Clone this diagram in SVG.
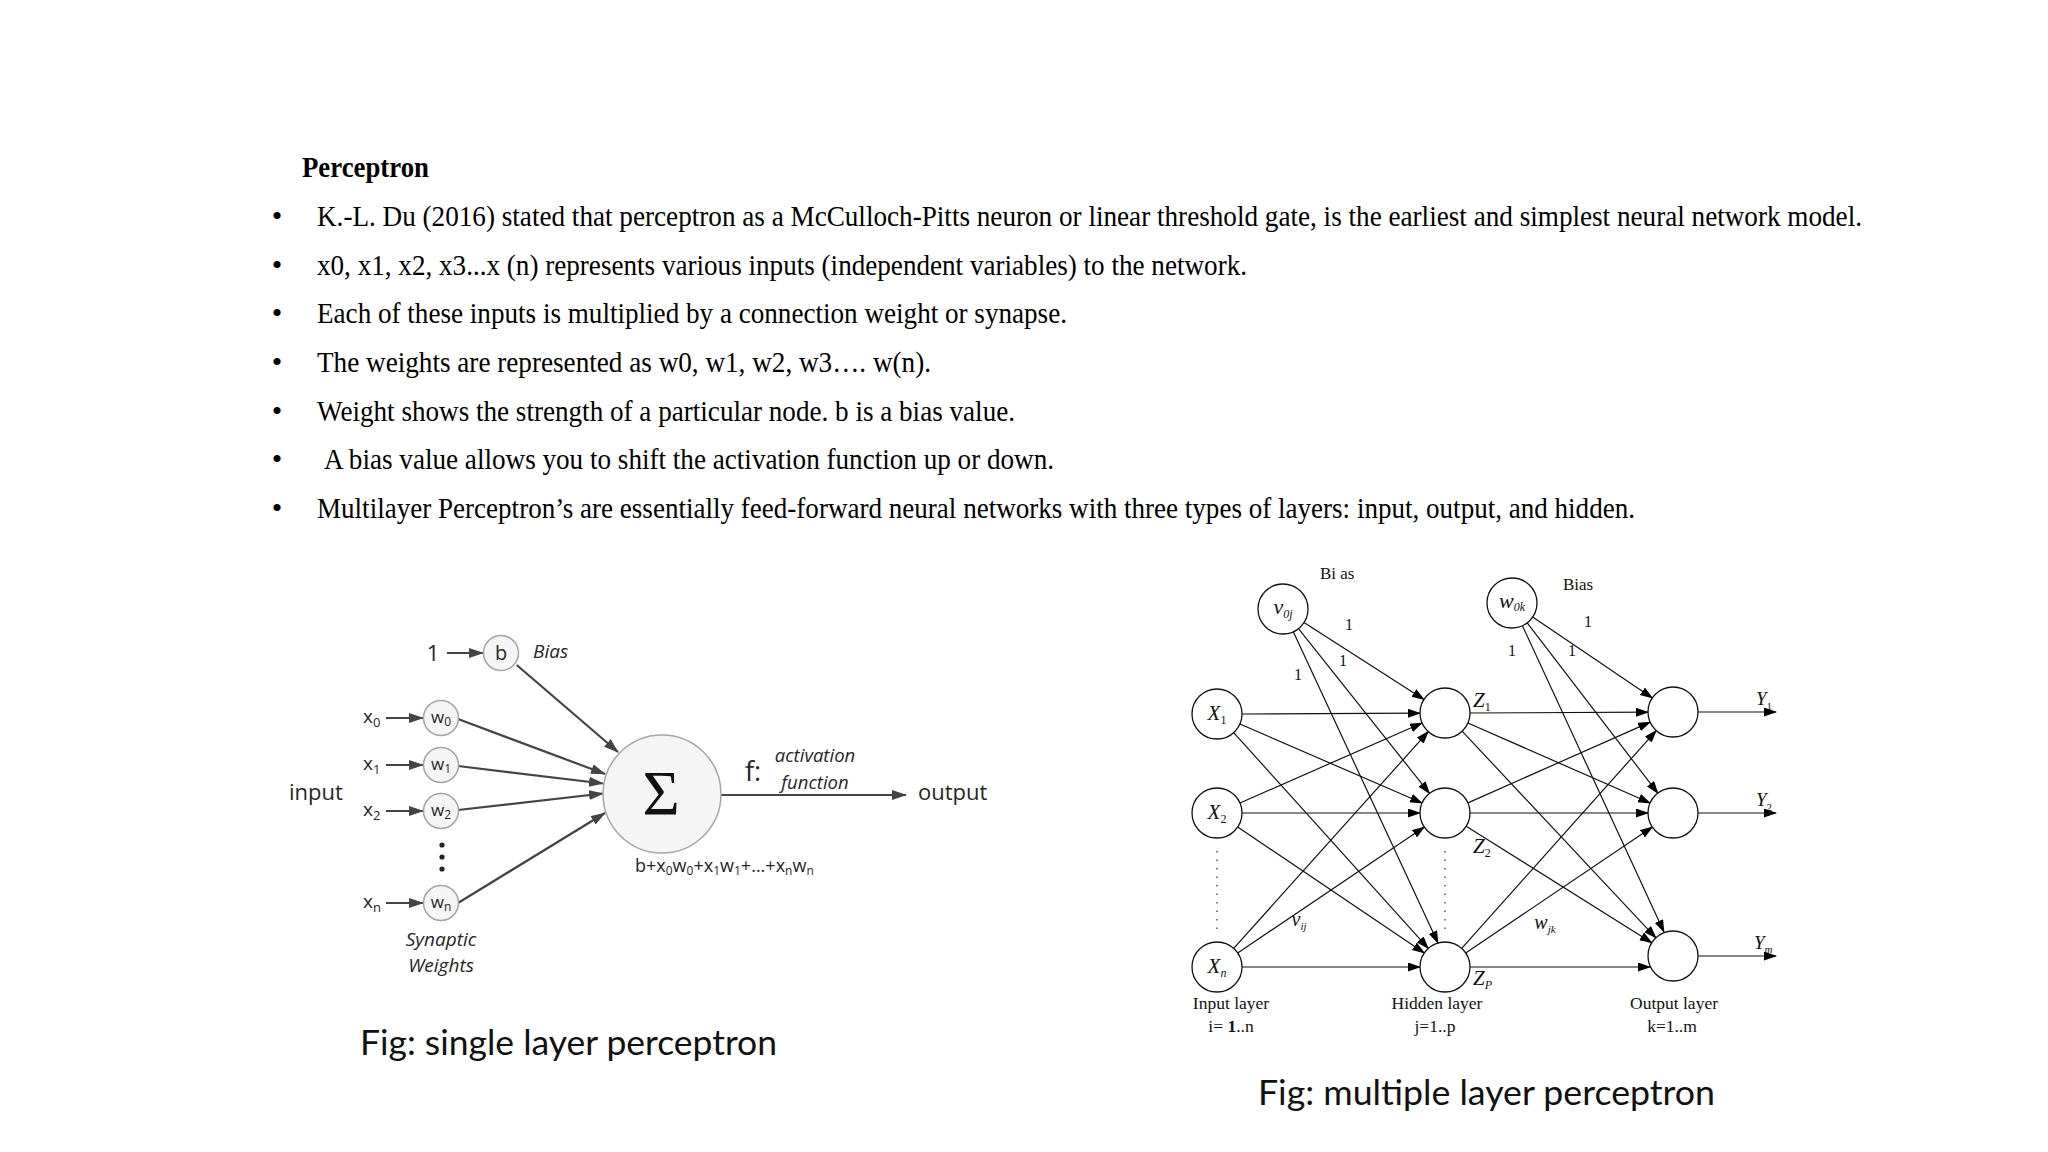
<svg xmlns="http://www.w3.org/2000/svg" width="2048" height="1152" viewBox="0 0 2048 1152">
<style>
.body{font-family:"Liberation Serif","Times New Roman",serif;font-size:29px;fill:#000}
.bul{font-family:"Liberation Serif",serif;font-size:30px;fill:#000;text-anchor:middle}
.lbl{font-family:"Open Sans","Noto Sans",sans-serif;fill:#262626}
.cap{font-family:Lato,"Open Sans",sans-serif;font-size:35.5px;fill:#111}
.pc{fill:#f5f5f5;stroke:#a6a6a6;stroke-width:1.5}
.la{stroke:#444;stroke-width:2.2;fill:none;marker-end:url(#ah1)}
.nc{fill:#fff;stroke:#111;stroke-width:1.3}
.ra{stroke:#111;stroke-width:1.2;fill:none;marker-end:url(#ah2)}
.tm{font-family:"Liberation Serif","Times New Roman",serif;fill:#111}
.it{font-style:italic}
.dot{stroke:#555;stroke-width:1.5;stroke-dasharray:1.5 7;fill:none}
</style>
<defs>
<marker id="ah1" markerWidth="16" markerHeight="11" refX="14" refY="5" orient="auto" markerUnits="userSpaceOnUse"><path d="M0,0 L15,5 L0,10 z" fill="#444"/></marker>
<marker id="ah2" markerWidth="14" markerHeight="10" refX="12" refY="4.5" orient="auto" markerUnits="userSpaceOnUse"><path d="M0,0 L13,4.5 L0,9 z" fill="#000"/></marker>
</defs>
<rect x="0" y="0" width="2048" height="1152" fill="#fff"/>

<g id="text-block">
<text class="body" x="302" y="177" font-weight="bold" textLength="127" lengthAdjust="spacingAndGlyphs">Perceptron</text>
<text class="bul" x="277" y="226">•</text>
<text class="body" x="317" y="226" textLength="1545" lengthAdjust="spacingAndGlyphs">K.-L. Du (2016) stated that perceptron as a McCulloch-Pitts neuron or linear threshold gate, is the earliest and simplest neural network model.</text>
<text class="bul" x="277" y="274.5">•</text>
<text class="body" x="317" y="274.5" textLength="930" lengthAdjust="spacingAndGlyphs">x0, x1, x2, x3...x (n) represents various inputs (independent variables) to the network.</text>
<text class="bul" x="277" y="323">•</text>
<text class="body" x="317" y="323" textLength="750" lengthAdjust="spacingAndGlyphs">Each of these inputs is multiplied by a connection weight or synapse.</text>
<text class="bul" x="277" y="371.5">•</text>
<text class="body" x="317" y="371.5" textLength="614" lengthAdjust="spacingAndGlyphs">The weights are represented as w0, w1, w2, w3…. w(n).</text>
<text class="bul" x="277" y="420.5">•</text>
<text class="body" x="317" y="420.5" textLength="698" lengthAdjust="spacingAndGlyphs">Weight shows the strength of a particular node. b is a bias value.</text>
<text class="bul" x="277" y="469">•</text>
<text class="body" x="324" y="469" textLength="730" lengthAdjust="spacingAndGlyphs">A bias value allows you to shift the activation function up or down.</text>
<text class="bul" x="277" y="518">•</text>
<text class="body" x="317" y="518" textLength="1318" lengthAdjust="spacingAndGlyphs">Multilayer Perceptron’s are essentially feed-forward neural networks with three types of layers: input, output, and hidden.</text>
</g>

<!-- Single layer perceptron -->
<g id="slp-connectors">
<line class="la" x1="447" y1="653" x2="483" y2="653"/>
<line class="la" x1="386" y1="718" x2="423" y2="718"/>
<line class="la" x1="386" y1="765" x2="423" y2="765"/>
<line class="la" x1="386" y1="811" x2="423" y2="811"/>
<line class="la" x1="386" y1="903" x2="423" y2="903"/>
<line class="la" x1="516.7" y1="665" x2="618" y2="752"/>
<line class="la" x1="458" y1="719" x2="605" y2="774"/>
<line class="la" x1="458" y1="766" x2="603" y2="783.5"/>
<line class="la" x1="458" y1="810" x2="603" y2="793.5"/>
<line class="la" x1="458" y1="903" x2="605" y2="813"/>
<line class="la" x1="721" y1="795" x2="906" y2="795"/>
</g>
<g id="slp-input-label"><text class="lbl" x="289" y="800" font-size="22">input</text></g>
<g id="slp-one"><text class="lbl" x="433" y="661" font-size="22" text-anchor="middle">1</text></g>
<g id="slp-bias">
<circle class="pc" cx="501" cy="653" r="17.5"/>
<text class="lbl" x="501" y="660" font-size="20" text-anchor="middle">b</text>
<text class="lbl it" x="533" y="658" font-size="19">Bias</text>
</g>
<g id="slp-x0"><text class="lbl" x="363" y="723" font-size="19">x<tspan font-size="13" dy="4">0</tspan></text></g>
<g id="slp-x1"><text class="lbl" x="363" y="770" font-size="19">x<tspan font-size="13" dy="4">1</tspan></text></g>
<g id="slp-x2"><text class="lbl" x="363" y="816" font-size="19">x<tspan font-size="13" dy="4">2</tspan></text></g>
<g id="slp-xn"><text class="lbl" x="363" y="908" font-size="19">x<tspan font-size="13" dy="4">n</tspan></text></g>
<g id="slp-w0"><circle class="pc" cx="441" cy="718" r="17.5"/><text class="lbl" x="441" y="723" font-size="17" text-anchor="middle">w<tspan font-size="12" dy="3">0</tspan></text></g>
<g id="slp-w1"><circle class="pc" cx="441" cy="765" r="17.5"/><text class="lbl" x="441" y="770" font-size="17" text-anchor="middle">w<tspan font-size="12" dy="3">1</tspan></text></g>
<g id="slp-w2"><circle class="pc" cx="441" cy="811" r="17.5"/><text class="lbl" x="441" y="816" font-size="17" text-anchor="middle">w<tspan font-size="12" dy="3">2</tspan></text></g>
<g id="slp-wn"><circle class="pc" cx="441" cy="903" r="17.5"/><text class="lbl" x="441" y="908" font-size="17" text-anchor="middle">w<tspan font-size="12" dy="3">n</tspan></text></g>
<g id="slp-dots" fill="#222">
<circle cx="442" cy="845" r="2.6"/><circle cx="442" cy="857" r="2.6"/><circle cx="442" cy="869" r="2.6"/>
</g>
<g id="slp-weights-label">
<text class="lbl it" x="441" y="946" font-size="19" text-anchor="middle">Synaptic</text>
<text class="lbl it" x="441" y="972" font-size="19" text-anchor="middle">Weights</text>
</g>
<g id="slp-sum">
<circle class="pc" cx="662" cy="794" r="59"/>
<text class="tm" x="661" y="815" font-size="64" text-anchor="middle" fill="#000">Σ</text>
<text class="lbl" x="635" y="872" font-size="18">b+x<tspan font-size="12" dy="3">0</tspan><tspan dy="-3">w</tspan><tspan font-size="12" dy="3">0</tspan><tspan dy="-3">+x</tspan><tspan font-size="12" dy="3">1</tspan><tspan dy="-3">w</tspan><tspan font-size="12" dy="3">1</tspan><tspan dy="-3">+...+x</tspan><tspan font-size="12" dy="3">n</tspan><tspan dy="-3">w</tspan><tspan font-size="12" dy="3">n</tspan></text>
</g>
<g id="slp-activation">
<text class="lbl" x="745" y="781" font-size="27">f:</text>
<text class="lbl it" x="815" y="762" font-size="18.5" text-anchor="middle">activation</text>
<text class="lbl it" x="815" y="789" font-size="18.5" text-anchor="middle">function</text>
</g>
<g id="slp-output"><text class="lbl" x="918" y="800" font-size="22">output</text></g>

<!-- Multi layer perceptron -->
<g id="mlp-connectors">
<line class="ra" x1="1242" y1="714" x2="1420" y2="713.2"/>
<line class="ra" x1="1239.9" y1="724" x2="1422.1" y2="803"/>
<line class="ra" x1="1233.7" y1="732.6" x2="1428.3" y2="948.4"/>
<line class="ra" x1="1239.9" y1="803" x2="1422.1" y2="723"/>
<line class="ra" x1="1242" y1="813" x2="1420" y2="813"/>
<line class="ra" x1="1237.7" y1="827" x2="1424.3" y2="953"/>
<line class="ra" x1="1233.7" y1="948.4" x2="1428.3" y2="731.6"/>
<line class="ra" x1="1237.7" y1="953" x2="1424.3" y2="827"/>
<line class="ra" x1="1242" y1="967" x2="1420" y2="967"/>
<line class="ra" x1="1304" y1="622.5" x2="1424" y2="699.5"/>
<line class="ra" x1="1298.5" y1="628.6" x2="1429.5" y2="793.4"/>
<line class="ra" x1="1293.3" y1="631.8" x2="1438" y2="943"/>
<line class="ra" x1="1470" y1="713" x2="1648" y2="712.2"/>
<line class="ra" x1="1467.9" y1="723" x2="1650.1" y2="803"/>
<line class="ra" x1="1462.1" y1="731.2" x2="1655.9" y2="937.8"/>
<line class="ra" x1="1467.9" y1="802.9" x2="1650.1" y2="722.1"/>
<line class="ra" x1="1470" y1="813" x2="1648" y2="813"/>
<line class="ra" x1="1466.2" y1="826.3" x2="1651.8" y2="942.7"/>
<line class="ra" x1="1461.7" y1="948.4" x2="1656.3" y2="730.6"/>
<line class="ra" x1="1465.7" y1="953" x2="1652.3" y2="827"/>
<line class="ra" x1="1470" y1="967" x2="1650" y2="967"/>
<line class="ra" x1="1532.7" y1="617" x2="1652.3" y2="698"/>
<line class="ra" x1="1527.2" y1="622.8" x2="1657.8" y2="793.2"/>
<line class="ra" x1="1522.4" y1="625.7" x2="1664" y2="932"/>
<line class="ra" x1="1698" y1="712" x2="1776" y2="712"/>
<line class="ra" x1="1698" y1="813" x2="1776" y2="813"/>
<line class="ra" x1="1698" y1="956" x2="1776" y2="956"/>
<line class="dot" x1="1217" y1="851" x2="1217" y2="932"/>
<line class="dot" x1="1445" y1="851" x2="1445" y2="932"/>
</g>
<g id="mlp-weight-labels" class="tm" font-size="16" text-anchor="middle">
<text x="1349" y="630">1</text>
<text x="1343" y="666">1</text>
<text x="1298" y="680">1</text>
<text x="1512" y="656">1</text>
<text x="1572" y="656">1</text>
<text x="1588" y="627">1</text>
<text class="it" x="1299" y="926" font-size="20">v<tspan font-size="11" dy="4">ij</tspan></text>
<text class="it" x="1545" y="929" font-size="20">w<tspan font-size="11" dy="4">jk</tspan></text>
</g>
<g id="mlp-bias-v">
<text class="tm" x="1320" y="579" font-size="17">Bi as</text>
<circle class="nc" cx="1283" cy="609" r="25"/>
<text class="tm it" x="1283" y="614" font-size="22" text-anchor="middle">v<tspan font-size="12" dy="4">0j</tspan></text>
</g>
<g id="mlp-bias-w">
<text class="tm" x="1563" y="590" font-size="17">Bias</text>
<circle class="nc" cx="1512" cy="603" r="25"/>
<text class="tm it" x="1512" y="608" font-size="22" text-anchor="middle">w<tspan font-size="12" dy="3">0k</tspan></text>
</g>
<g id="mlp-x1"><circle class="nc" cx="1217" cy="714" r="25"/><text class="tm it" x="1217" y="720" font-size="21" text-anchor="middle">X<tspan font-size="12" dy="4" font-style="normal">1</tspan></text></g>
<g id="mlp-x2"><circle class="nc" cx="1217" cy="813" r="25"/><text class="tm it" x="1217" y="819" font-size="21" text-anchor="middle">X<tspan font-size="12" dy="4" font-style="normal">2</tspan></text></g>
<g id="mlp-xn"><circle class="nc" cx="1217" cy="967" r="25"/><text class="tm it" x="1217" y="973" font-size="21" text-anchor="middle">X<tspan font-size="12" dy="4">n</tspan></text></g>
<g id="mlp-z1"><circle class="nc" cx="1445" cy="713" r="25"/><text class="tm it" x="1473" y="707" font-size="21">Z<tspan font-size="12" dy="4" font-style="normal">1</tspan></text></g>
<g id="mlp-z2"><circle class="nc" cx="1445" cy="813" r="25"/><text class="tm it" x="1473" y="853" font-size="21">Z<tspan font-size="12" dy="4" font-style="normal">2</tspan></text></g>
<g id="mlp-zp"><circle class="nc" cx="1445" cy="967" r="25"/><text class="tm it" x="1473" y="985" font-size="21">Z<tspan font-size="12" dy="4">P</tspan></text></g>
<g id="mlp-y1"><circle class="nc" cx="1673" cy="712" r="25"/><text class="tm it" x="1756" y="705" font-size="19">Y<tspan font-size="11" dy="5" font-style="normal">1</tspan></text></g>
<g id="mlp-y2"><circle class="nc" cx="1673" cy="813" r="25"/><text class="tm it" x="1756" y="806" font-size="19">Y<tspan font-size="11" dy="5" font-style="normal">2</tspan></text></g>
<g id="mlp-ym"><circle class="nc" cx="1673" cy="956" r="25"/><text class="tm it" x="1754" y="949" font-size="19">Y<tspan font-size="11" dy="4">m</tspan></text></g>
<g id="mlp-layer-labels" class="tm" font-size="17.5" text-anchor="middle">
<text x="1231" y="1009">Input layer</text>
<text x="1231" y="1032">i= <tspan font-weight="bold">1</tspan>..n</text>
<text x="1437" y="1009">Hidden layer</text>
<text x="1435" y="1032">j=1..p</text>
<text x="1674" y="1009">Output layer</text>
<text x="1672" y="1032">k=1..m</text>
</g>

<g id="captions">
<text class="cap" x="360" y="1055" textLength="417" lengthAdjust="spacingAndGlyphs">Fig: single layer perceptron</text>
<text class="cap" x="1258" y="1105" textLength="457" lengthAdjust="spacingAndGlyphs">Fig: multiple layer perceptron</text>
</g>
</svg>
